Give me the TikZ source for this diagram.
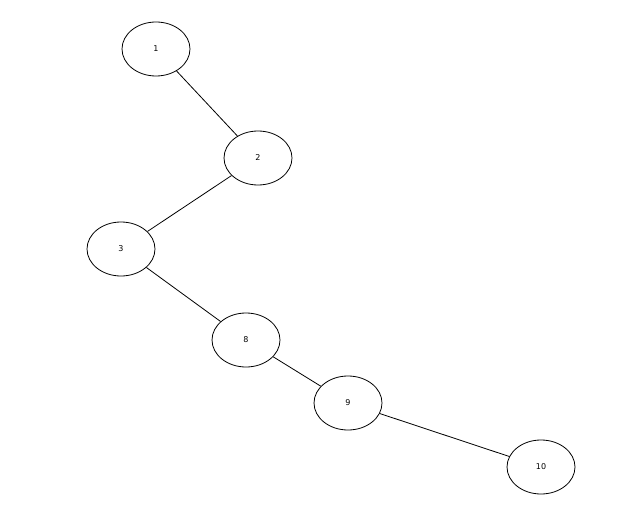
\documentclass[tikz,border=0pt]{standalone}
\usepackage{fontspec}
\setmainfont{DejaVu Sans}
\usetikzlibrary{shapes.geometric}
\tikzset{
  vertex/.style={draw, ellipse, line width=0.8pt, minimum width=68pt, minimum height=54pt, inner sep=0pt, font=\fontsize{8}{9}\selectfont},
  edge/.style={line width=0.8pt},
}
\begin{document}
\begin{tikzpicture}[x=1pt, y=-1pt]
      \useasboundingbox (0,0) rectangle (621,508);

      \node[vertex] at (156,49) (n1) {1};
      \node[vertex] at (258,158) (n2) {2};
      \node[vertex] at (121,249) (n3) {3};
      \node[vertex] at (246,340) (n8) {8};
      \node[vertex] at (348,403) (n9) {9};
      \node[vertex] at (541,467) (n10) {10};

      \draw[edge] (n1) -- (n2);
      \draw[edge] (n2) -- (n3);
      \draw[edge] (n3) -- (n8);
      \draw[edge] (n8) -- (n9);
      \draw[edge] (n9) -- (n10);
\end{tikzpicture}
\end{document}
